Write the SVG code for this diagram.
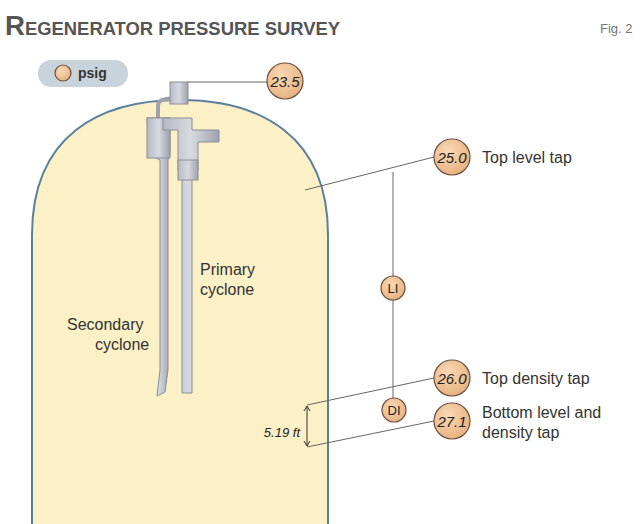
<svg xmlns="http://www.w3.org/2000/svg" width="640" height="524" viewBox="0 0 640 524">
<defs>
<radialGradient id="g" cx="0.4" cy="0.35" r="0.7"><stop offset="0" stop-color="#f9d9b6"/><stop offset="1" stop-color="#e6b07d"/></radialGradient>
<linearGradient id="p" x1="0" x2="1"><stop offset="0" stop-color="#b8bac4"/><stop offset="0.5" stop-color="#d8dae0"/><stop offset="1" stop-color="#9fa2ad"/></linearGradient>
</defs>
<style>
.c{fill:url(#g);stroke:#6b5040;stroke-width:1.2}
.n{font-family:"Liberation Sans",Arial,sans-serif;font-style:italic;font-size:15px;fill:#222;text-anchor:middle}
.l{font-family:"Liberation Sans",Arial,sans-serif;font-size:16px;fill:#333}
.w{stroke:#666;stroke-width:1;fill:none}
.pipe{fill:url(#p);stroke:#8a8d98;stroke-width:1}
</style>
<rect width="640" height="524" fill="#fff"/>
<text x="5" y="35" font-family="Liberation Sans,Arial,sans-serif" fill="#555" font-size="18" font-weight="bold" textLength="335" lengthAdjust="spacingAndGlyphs"><tspan font-size="27">R</tspan>EGENERATOR PRESSURE SURVEY</text>
<text x="600" y="33" font-family="Liberation Sans,Arial,sans-serif" font-size="13" fill="#777">Fig. 2</text>
<g id="legend"><rect x="38" y="60" width="90" height="27" rx="13" fill="#c9d3dc"/><circle cx="63" cy="73" r="8" class="c"/><text x="78" y="78" font-family="Liberation Sans,Arial,sans-serif" font-weight="bold" font-size="14" fill="#333">psig</text></g>
<g id="vessel"><path d="M32,524 L32,235 C32,135 100,100 180,100 C260,100 328,135 328,235 L328,524" fill="#fbf0c6" stroke="#5a7fa0" stroke-width="2"/></g>
<g id="cyclones">
<path d="M158,120 L158,106 Q158,100 166,99 L176,98" fill="none" stroke="#a0a3ad" stroke-width="4"/>
<rect x="170" y="82" width="18" height="22" class="pipe"/>
<path class="pipe" d="M147,118 L170,118 L170,155 L168,160 L168,370 L165,392 L157,396 L160,370 L160,160 L150,155 Z"/>
<rect x="147" y="118" width="23" height="40" class="pipe"/>
<path class="pipe" d="M163,118 L192,118 L192,130 L219,130 L219,142 L198,142 L198,170 L192,178 L192,393 L182,393 L182,178 L178,170 L178,130 L163,130 Z"/>
<rect x="178" y="160" width="20" height="20" class="pipe"/>
</g>
<g id="connectors">
<line class="w" x1="188" y1="82" x2="268" y2="82"/>
<line class="w" x1="305" y1="190" x2="434" y2="157"/>
<line class="w" x1="393" y1="172" x2="393" y2="420"/>
<line class="w" x1="307" y1="405" x2="434" y2="378"/>
<line class="w" x1="307" y1="447" x2="434" y2="421"/>
<line x1="307" y1="406" x2="307" y2="446" stroke="#333"/>
<path d="M304,411 L307,406 L310,411 M304,441 L307,446 L310,441" fill="none" stroke="#333"/>
</g>
<text x="300" y="437" class="n" style="text-anchor:end;font-size:13px">5.19 ft</text>
<g id="n235"><circle cx="285" cy="81" r="18" class="c"/><text x="285" y="87" class="n">23.5</text></g>
<g id="n250"><circle cx="452" cy="157" r="18" class="c"/><text x="452" y="163" class="n">25.0</text><text x="482" y="163" class="l">Top level tap</text></g>
<g id="li"><circle cx="393" cy="288" r="12" class="c"/><text x="393" y="293" class="n" style="font-style:normal;font-size:13px">LI</text></g>
<g id="n260"><circle cx="452" cy="378" r="18" class="c"/><text x="452" y="384" class="n">26.0</text><text x="482" y="384" class="l">Top density tap</text></g>
<g id="di"><circle cx="394" cy="410" r="12" class="c"/><text x="394" y="415" class="n" style="font-style:normal;font-size:13px">DI</text></g>
<g id="n271"><circle cx="452" cy="421" r="18" class="c"/><text x="452" y="427" class="n">27.1</text><text x="482" y="418" class="l">Bottom level and</text><text x="482" y="438" class="l">density tap</text></g>
<text x="200" y="275" class="l">Primary</text><text x="200" y="295" class="l">cyclone</text>
<text x="67" y="330" class="l">Secondary</text><text x="95" y="350" class="l">cyclone</text>
</svg>
